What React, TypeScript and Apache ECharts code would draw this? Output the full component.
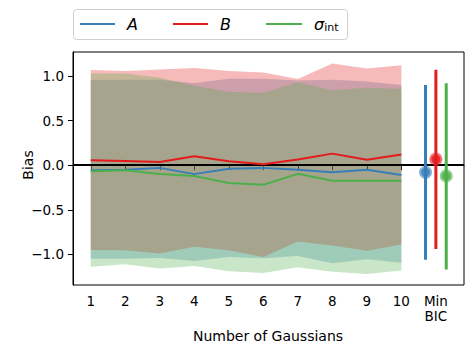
import React, { useEffect, useRef } from "react";
import * as echarts from "echarts";

const xs = [1, 2, 3, 4, 5, 6, 7, 8, 9, 10];
const tickValues = [1, 2, 3, 4, 5, 6, 7, 8, 9, 10, 11];
const yTicks = [-1, -0.5, 0, 0.5, 1];

const aMean = [-0.056, -0.05, -0.03, -0.1, -0.04, -0.03, -0.05, -0.08, -0.05, -0.11];
const aHi = [0.955, 0.96, 0.96, 0.92, 0.97, 0.97, 0.95, 0.96, 0.94, 0.9];
const aLo = [-1.05, -1.05, -1.04, -1.075, -1.03, -1.045, -1.02, -1.1, -1.055, -1.095];

const bMean = [0.056, 0.048, 0.037, 0.1, 0.045, 0.01, 0.064, 0.13, 0.06, 0.12];
const bHi = [1.067, 1.056, 1.075, 1.09, 1.056, 1.04, 0.966, 1.14, 1.086, 1.12];
const bLo = [-0.95, -0.955, -0.99, -0.915, -0.955, -1.03, -0.855, -0.9, -0.96, -0.89];

const sMean = [-0.067, -0.056, -0.1, -0.12, -0.2, -0.22, -0.097, -0.175, -0.175, -0.175];
const sHi = [1.03, 1.03, 0.98, 0.89, 0.825, 0.81, 0.93, 0.84, 0.87, 0.855];
const sLo = [-1.14, -1.11, -1.16, -1.13, -1.19, -1.21, -1.145, -1.195, -1.22, -1.18];

// Min BIC error bars: [x, mean, low, high]
const bicA = [10.7, -0.08, -1.06, 0.9];
const bicB = [11.0, 0.067, -0.94, 1.07];
const bicS = [11.3, -0.12, -1.17, 0.92];

const BLUE = "#377eb8";
const RED = "#e41a1c";
const GREEN = "#4daf4a";
const FONT = "DejaVu Sans";

function band(name: string, lo: number[], hi: number[], fill: string, z: number) {
  return {
    type: "custom",
    name,
    z,
    silent: true,
    data: xs.map((x, i) => [x, lo[i], hi[i]]),
    encode: { x: 0, y: [1, 2] },
    renderItem: (params: any, api: any) => {
      if (params.dataIndex !== 0) return null;
      const pts: number[][] = [];
      for (let i = 0; i < xs.length; i++) pts.push(api.coord([xs[i], hi[i]]));
      for (let i = xs.length - 1; i >= 0; i--) pts.push(api.coord([xs[i], lo[i]]));
      return { type: "polygon", shape: { points: pts }, style: { fill } };
    },
  };
}

function meanLine(vals: number[], color: string) {
  return {
    type: "line",
    z: 5,
    silent: true,
    showSymbol: false,
    data: xs.map((x, i) => [x, vals[i]]),
    lineStyle: { color, width: 2 },
  };
}

function errBar(b: number[], color: string) {
  return {
    type: "line",
    z: 6,
    silent: true,
    showSymbol: false,
    data: [
      [b[0], b[2]],
      [b[0], b[3]],
    ],
    lineStyle: { color, width: 3, cap: "butt" },
  };
}

function marker(b: number[], color: string) {
  return [
    {
      type: "scatter",
      z: 7,
      silent: true,
      symbolSize: 13,
      data: [[b[0], b[1]]],
      itemStyle: { color, opacity: 0.6 },
    },
    {
      type: "scatter",
      z: 8,
      silent: true,
      symbolSize: 9,
      data: [[b[0], b[1]]],
      itemStyle: { color },
    },
  ];
}

const fmtY = (v: number) => (v < 0 ? "\u2212" + Math.abs(v).toFixed(1) : v.toFixed(1));

export default function App() {
  const ref = useRef<HTMLDivElement>(null);
  useEffect(() => {
    if (!ref.current) return;
    const chart = echarts.init(ref.current, null, { renderer: "svg" });
    chart.setOption({
      animation: false,
      grid: {
        left: 73,
        right: 10,
        top: 52,
        bottom: 69,
        show: true,
        borderColor: "#000",
        borderWidth: 1,
        backgroundColor: "transparent",
      },
      xAxis: {
        type: "value",
        min: 0.485,
        max: 11.815,
        splitLine: { show: false },
        axisLine: { show: true, lineStyle: { color: "#000", width: 1 } },
        axisTick: { show: true, length: 5, customValues: tickValues, lineStyle: { color: "#000" } },
        axisLabel: {
          customValues: tickValues,
          formatter: (v: number) => (v === 11 ? "Min\nBIC" : String(v)),
          color: "#000",
          fontFamily: FONT,
          fontSize: 13.5,
          lineHeight: 15,
          margin: 8,
        },
      },
      yAxis: {
        type: "value",
        min: -1.344,
        max: 1.27,
        splitLine: { show: false },
        axisLine: { show: true, lineStyle: { color: "#000", width: 1 } },
        axisTick: { show: true, length: 5, customValues: yTicks, lineStyle: { color: "#000" } },
        axisLabel: {
          customValues: yTicks,
          formatter: fmtY,
          color: "#000",
          fontFamily: FONT,
          fontSize: 13.5,
          margin: 9,
        },
      },
      graphic: [
        {
          type: "text",
          x: 268,
          y: 336,
          z: 50,
          style: {
            text: "Number of Gaussians",
            fill: "#000",
            font: `14px '${FONT}'`,
            align: "center",
            verticalAlign: "middle",
          },
        },
        {
          type: "text",
          x: 28,
          y: 165,
          rotation: Math.PI / 2,
          z: 50,
          style: {
            text: "Bias",
            fill: "#000",
            font: `14px '${FONT}'`,
            align: "center",
            verticalAlign: "middle",
          },
        },
        {
          type: "rect",
          shape: { x: 73.5, y: 9.5, width: 274, height: 30, r: 3 },
          style: { fill: "rgba(255,255,255,0.8)", stroke: "#d0d0d0", lineWidth: 1 },
          z: 100,
        },
        { type: "line", shape: { x1: 80, y1: 24, x2: 115, y2: 24 }, style: { stroke: BLUE, lineWidth: 2 }, z: 101 },
        { type: "line", shape: { x1: 173, y1: 24, x2: 208, y2: 24 }, style: { stroke: RED, lineWidth: 2 }, z: 101 },
        { type: "line", shape: { x1: 266, y1: 24, x2: 302, y2: 24 }, style: { stroke: GREEN, lineWidth: 2 }, z: 101 },
        {
          type: "text",
          x: 127,
          y: 24,
          z: 101,
          style: { text: "A", fill: "#000", font: `italic 16px '${FONT}'`, verticalAlign: "middle" },
        },
        {
          type: "text",
          x: 220,
          y: 24,
          z: 101,
          style: { text: "B", fill: "#000", font: `italic 16px '${FONT}'`, verticalAlign: "middle" },
        },
        {
          type: "text",
          x: 314,
          y: 24,
          z: 101,
          style: {
            text: "{s|\u03c3}{sub|int}",
            verticalAlign: "middle",
            rich: {
              s: { fontFamily: FONT, fontStyle: "italic", fontSize: 16, fill: "#000", color: "#000" },
              sub: { fontFamily: FONT, fontSize: 11, fill: "#000", color: "#000", padding: [7, 0, 0, 0] },
            },
          },
        },
      ],
      series: [
        band("Aband", aLo, aHi, "rgba(55,126,184,0.3)", 1),
        band("Bband", bLo, bHi, "rgba(228,26,28,0.3)", 2),
        band("Sband", sLo, sHi, "rgba(77,175,74,0.3)", 3),
        meanLine(aMean, BLUE),
        meanLine(bMean, RED),
        meanLine(sMean, GREEN),
        errBar(bicA, BLUE),
        errBar(bicB, RED),
        errBar(bicS, GREEN),
        ...marker(bicA, BLUE),
        ...marker(bicB, RED),
        ...marker(bicS, GREEN),
        {
          type: "line",
          z: 10,
          silent: true,
          data: [],
          markLine: {
            silent: true,
            symbol: ["none", "none"],
            label: { show: false },
            lineStyle: { color: "#000", width: 2, type: "solid" },
            data: [{ yAxis: 0 }],
          },
        },
      ],
    });
    return () => chart.dispose();
  }, []);
  return (
    <div
      ref={ref}
      style={{ position: "absolute", left: 0, top: 0, width: 474, height: 354 }}
    />
  );
}
